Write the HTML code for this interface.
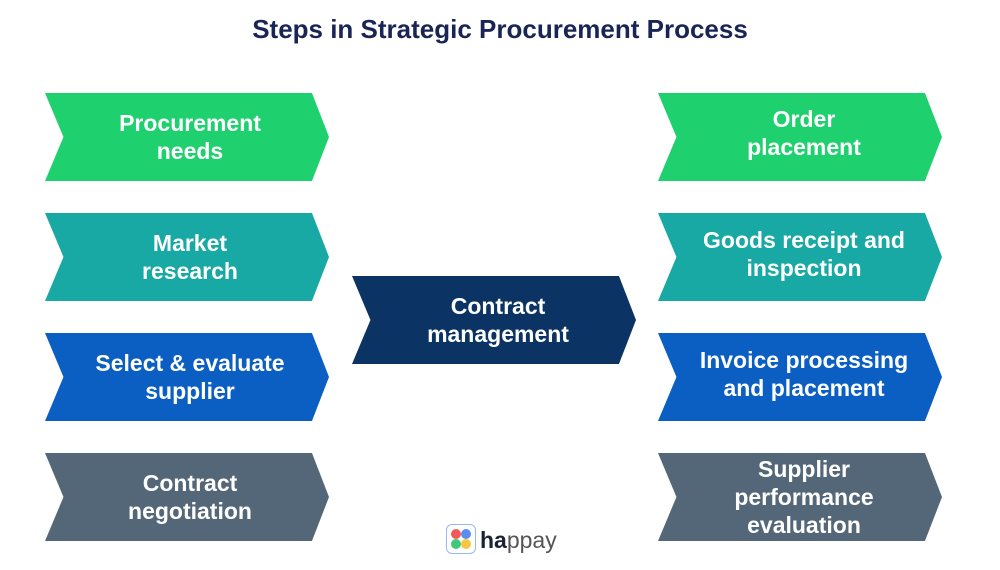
<!DOCTYPE html>
<html><head><meta charset="utf-8"><style>
body{margin:0;width:1000px;height:570px;background:#fff;position:relative;overflow:hidden;font-family:"Liberation Sans",sans-serif}
h1{position:absolute;top:14px;left:0;width:1000px;text-align:center;margin:0;font-size:26px;color:#1a2556;font-weight:bold}
.c{position:absolute;height:88px;display:flex;align-items:center;justify-content:center;text-align:center;color:#fff;font-weight:bold;font-size:23px;line-height:28px;clip-path:polygon(0 0,94% 0,100% 50%,94% 100%,0 100%,6.5% 50%)}
.g{background:#1fd06f}.t{background:#18a9a4}.b{background:#0b5ec2}.s{background:#546778}.n{background:#0b3464}
.l{left:45px;width:284px;padding-left:6px;box-sizing:border-box}
.r{left:658px;width:284px;padding-left:8px;box-sizing:border-box}
</style></head><body>
<h1>Steps in Strategic Procurement Process</h1>
<div class="c g l" style="top:93px">Procurement<br>needs</div>
<div class="c t l" style="top:213px">Market<br>research</div>
<div class="c b l" style="top:333px">Select &amp; evaluate<br>supplier</div>
<div class="c s l" style="top:453px">Contract<br>negotiation</div>
<div class="c n" style="top:276px;left:352px;width:284px;padding-left:8px;box-sizing:border-box">Contract<br>management</div>
<div class="c g r" style="top:93px;padding-bottom:8px">Order<br>placement</div>
<div class="c t r" style="top:213px;padding-bottom:6px">Goods receipt and<br>inspection</div>
<div class="c b r" style="top:333px;padding-bottom:6px">Invoice processing<br>and placement</div>
<div class="c s r" style="top:453px">Supplier<br>performance<br>evaluation</div>
<div style="position:absolute;left:446px;top:524px;width:30px;height:30px;border:1.5px solid #9ab8f0;border-radius:6px;box-sizing:border-box">
<span style="position:absolute;left:4px;top:4px;width:10px;height:10px;border-radius:50%;background:#f05a5a"></span>
<span style="position:absolute;left:14px;top:4px;width:10px;height:10px;border-radius:50%;background:#5b8def"></span>
<span style="position:absolute;left:4px;top:14px;width:10px;height:10px;border-radius:50%;background:#3ec97a"></span>
<span style="position:absolute;left:14px;top:14px;width:10px;height:10px;border-radius:50%;background:#f7c744"></span>
</div>
<div style="position:absolute;left:480px;top:525px;font-size:23px;color:#1a2233;line-height:30px"><b>ha</b><span style="color:#555">ppay</span></div>
</body></html>
